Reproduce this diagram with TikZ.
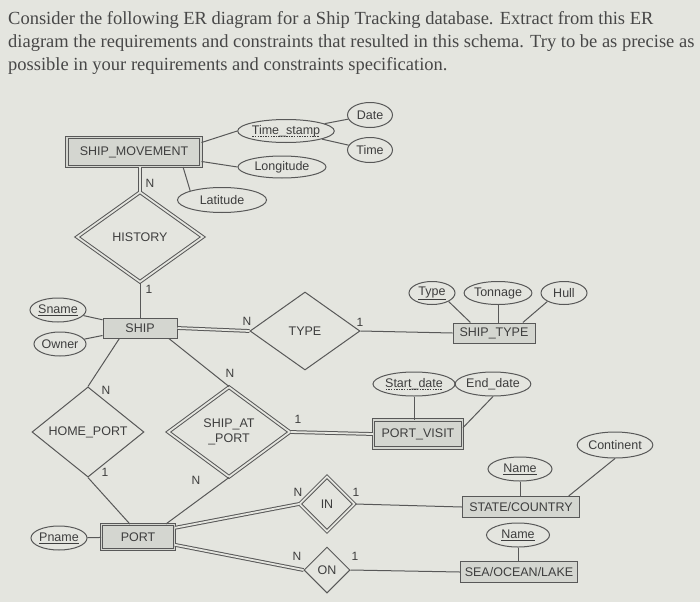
\documentclass[tikz,border=0pt]{standalone}
\usepackage{fontspec}
\setmainfont{Liberation Serif}
\setsansfont{Liberation Sans}
\usetikzlibrary{shapes.geometric}
\definecolor{paper}{RGB}{228,229,223}
\definecolor{ink}{RGB}{88,88,88}
\definecolor{boxfill}{RGB}{212,214,208}
\newcommand{\keyattr}[1]{\underline{#1}}
\newcommand{\partkey}[1]{\setbox0\hbox{#1}\leavevmode\rlap{\raisebox{-2.6pt}{\hbox to \wd0{\leaders\hbox to 2.6pt{\hss\rule{1.4pt}{0.5pt}\hss}\hfill}}}\box0}
\tikzset{
  question/.style={anchor=base west, inner sep=0pt, text=black!72, font=\fontsize{18.5}{22}\selectfont},
  erfont/.style={font=\sffamily\fontsize{12.5}{15}\selectfont, text=ink!70!black},
  entity/.style={erfont, draw=ink, fill=boxfill, line width=1pt, inner sep=0pt, minimum height=20pt},
  weak/.style={entity, double=boxfill, double distance=1.8pt},
  attr/.style={erfont, draw=ink, ellipse, line width=1pt, inner sep=0pt, minimum height=24pt},
  rel/.style={erfont, draw=ink, diamond, line width=1pt, inner sep=0pt},
  idrel/.style={rel, double=paper, double distance=1.8pt},
  link/.style={draw=ink, line width=1pt},
  total/.style={link, double=paper, double distance=1.8pt},
  card/.style={font=\sffamily\fontsize{12}{12}\selectfont, text=ink!70!black}
}
\begin{document}
\begin{tikzpicture}[x=1pt, y=-1pt]
\fill[paper] (0,0) rectangle (700,602);
\useasboundingbox (0,0) rectangle (700,602);
\path
  (8,25) node[question] (q1) {Consider the following ER diagram for a Ship Tracking database. Extract from this ER}
  (8,48) node[question] (q2) {diagram the requirements and constraints that resulted in this schema. Try to be as precise as}
  (8,70) node[question] (q3) {possible in your requirements and constraints specification.};
\path
  (134,152) node[weak, minimum width=134pt, minimum height=29pt] (move) {SHIP\_MOVEMENT}
  (286,131) node[attr, minimum width=95pt, minimum height=23pt] (stamp) {\partkey{Time\_stamp}}
  (370,115) node[attr, minimum width=45pt, minimum height=25pt] (date) {Date}
  (370,150) node[attr, minimum width=45pt, minimum height=25pt] (time) {Time}
  (282,167) node[attr, minimum width=88pt, minimum height=22pt] (long) {Longitude}
  (222,200) node[attr, minimum width=89pt, minimum height=25pt] (lat) {Latitude}
  (140,237) node[idrel, minimum width=126pt, minimum height=90pt] (hist) {HISTORY}
  (140,328) node[entity, minimum width=74pt] (ship) {SHIP}
  (58,310) node[attr, minimum width=53pt] (sname) {\keyattr{Sname}}
  (60,344) node[attr, minimum width=50pt] (owner) {Owner}
  (305,331) node[rel, minimum width=110pt, minimum height=78pt] (type) {TYPE}
  (494,333) node[entity, minimum width=82pt] (stype) {SHIP\_TYPE}
  (432,293) node[attr, minimum width=46pt, minimum height=23pt] (typ) {\keyattr{Type}}
  (498,293) node[attr, minimum width=64pt, minimum height=23pt] (ton) {Tonnage}
  (564,293) node[attr, minimum width=46pt, minimum height=23pt] (hull) {Hull}
  (88,432) node[rel, minimum width=112pt, minimum height=80pt] (home) {HOME\_PORT}
  (229,432) node[idrel, minimum width=122pt, minimum height=90pt, align=center] (atport) {SHIP\_AT\\\_PORT}
  (418,434) node[weak, minimum width=89pt, minimum height=28pt] (visit) {PORT\_VISIT}
  (414,384) node[attr, minimum width=82pt] (start) {\partkey{Start\_date}}
  (493,384) node[attr, minimum width=64pt] (end) {End\_date}
  (615,445) node[attr, minimum width=65pt, minimum height=26pt] (cont) {Continent}
  (521,507) node[entity, minimum width=117pt, minimum height=21pt] (state) {STATE/COUNTRY}
  (520,469) node[attr, minimum width=64pt] (statename) {\keyattr{Name}}
  (519,572) node[entity, minimum width=117pt, minimum height=21pt] (sea) {SEA/OCEAN/LAKE}
  (518,535) node[attr, minimum width=63pt] (seaname) {\keyattr{Name}}
  (138,537) node[weak, minimum width=73pt, minimum height=25pt] (port) {PORT}
  (59,538) node[attr, minimum width=52pt] (pname) {\keyattr{Pname}}
  (327,504) node[idrel, minimum width=55pt, minimum height=55pt] (in) {IN}
  (327,570) node[rel, minimum width=46pt, minimum height=46pt] (on) {ON};
\draw[link] (move.8) -- (stamp.west);
\draw[link] (move.-8) -- (long.west);
\draw[link] (move.-17) -- (lat.north west);
\draw[link] (stamp) -- (date);
\draw[link] (stamp) -- (time);
\draw[total] (move.south -| hist.north) -- (hist.north);
\draw[link] (hist.south) -- (ship.north);
\draw[link] (ship) -- (sname);
\draw[link] (ship) -- (owner);
\draw[total] (ship.east) -- (type.west);
\draw[link] (type.east) -- (stype.west);
\draw[link] (stype.156) -- (typ.south east);
\draw[link] (ton.south) -- (ton.south |- stype.north);
\draw[link] (stype.20) -- (hull.south west);
\draw[link] (ship.-153) -- (home.north);
\draw[link] (ship.-20) -- (atport.north);
\draw[link] (home.south) -- (port.122);
\draw[link] (atport.south) -- (port.25);
\draw[total] (atport.east) -- (visit.west);
\draw[link] (start.south) -- (start.south |- visit.north);
\draw[link] (visit.8) -- (end.south);
\draw[link] (pname) -- (port);
\draw[total] (port.14) -- (in.west);
\draw[total] (port.-12) -- (on.west);
\draw[link] (in.east) -- (state.west);
\draw[link] (on.east) -- (sea.west);
\draw[link] (statename.south) -- (statename.south |- state.north);
\draw[link] (state.13) -- (cont.south);
\draw[link] (seaname.south) -- (seaname.south |- sea.north);
\path
  (150,183) node[card] (nmove) {N}
  (149,289) node[card] (nship) {1}
  (247,321) node[card] (ntype) {N}
  (360,322) node[card] (ntypeone) {1}
  (106,390) node[card] (nhome) {N}
  (105,472) node[card] (nhomeone) {1}
  (230,373) node[card] (natport) {N}
  (298,419) node[card] (nvisit) {1}
  (196,480) node[card] (nport) {N}
  (298,492) node[card] (nin) {N}
  (356,492) node[card] (ninone) {1}
  (297,556) node[card] (non) {N}
  (355,556) node[card] (nonone) {1};
\end{tikzpicture}
\end{document}
